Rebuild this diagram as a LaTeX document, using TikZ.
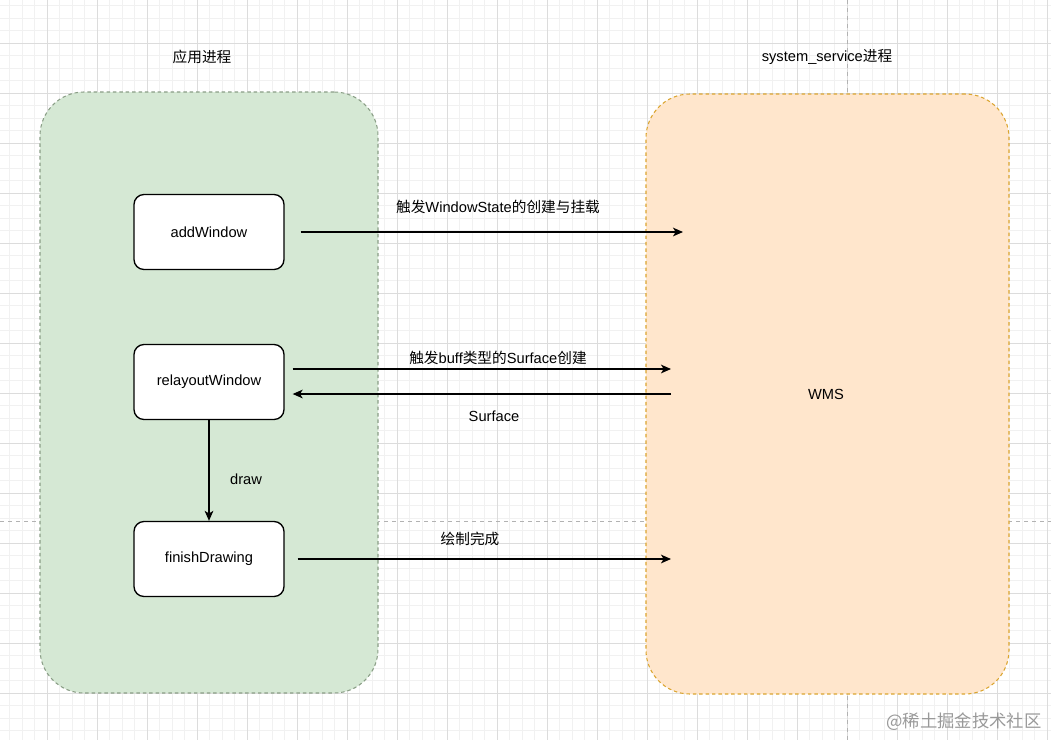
\documentclass[tikz,border=0pt]{standalone}
\usepackage{fontspec}
\setmainfont{Liberation Sans}
\newfontfamily\cjk{Noto Sans CJK SC}
\usepackage{xcolor}
\usetikzlibrary{arrows.meta,positioning}

\definecolor{appfill}{HTML}{D5E8D4}
\definecolor{appline}{HTML}{8A9E86}
\definecolor{sysfill}{HTML}{FFE6CC}
\definecolor{sysline}{HTML}{DBA530}
\definecolor{gridminor}{HTML}{F1F1F1}
\definecolor{gridmajor}{HTML}{DCDCDC}

\newcommand{\zh}[1]{{\cjk #1}}

\tikzset{
    lane/.style={rectangle,rounded corners=33pt,dash pattern=on 2.6pt off 2.2pt,line width=.8pt},
    call/.style={rectangle,rounded corners=7.5pt,draw,fill=white,line width=1pt,
        minimum width=112.5pt,minimum height=56.25pt,inner sep=0pt},
    flow/.style={-{Stealth[length=7.5pt,width=6.5pt,inset=2pt]},line width=1pt},
    lbl/.style={inner sep=0pt}
}

\begin{document}
\begin{tikzpicture}[x=0.75pt,y=-0.75pt,every node/.style={font=\fontsize{11}{13}\selectfont}]
    \useasboundingbox (0,0) rectangle (1051,740);
    \fill[white] (0,0) rectangle (1051,740);
    % background grid
    \foreach \gx in {-3,9.5,...,1051} \draw[gridminor,line width=.5pt] (\gx,0) -- (\gx,740);
    \foreach \gy in {-7,5.5,...,740} \draw[gridminor,line width=.5pt] (0,\gy) -- (1051,\gy);
    \foreach \gx in {47,97,...,1047} \draw[gridmajor,line width=.5pt] (\gx,0) -- (\gx,740);
    \foreach \gy in {43,93,...,740} \draw[gridmajor,line width=.5pt] (0,\gy) -- (1051,\gy);
    \draw[gray!60,dashed,line width=.6pt] (847,0) -- (847,740);
    \draw[gray!60,dashed,line width=.6pt] (0,521) -- (1051,521);

    \node[lane,draw=appline,fill=appfill,minimum width=253.5pt,minimum height=450.75pt] (app) at (209,392.5) {};
    \node[lane,draw=sysline,fill=sysfill,minimum width=272.25pt,minimum height=450pt] (sys) at (827.5,394) {};
    \node[lbl] (apptitle) at (202,57) {\zh{应用进程}};
    \node[lbl] (systitle) at (827,57) {system\_service\zh{进程}};
    \node[lbl] (wms) at (826,394) {WMS};

    \node[call] (add) at (209,232) {addWindow};
    \node[call] (relay) at (209,382) {relayoutWindow};
    \node[call] (finish) at (209,559) {finishDrawing};

    \coordinate (wmsAdd) at (683,232);
    \coordinate (wmsRelay) at (671,369);
    \coordinate (wmsBack) at (671,394);
    \coordinate (wmsFinish) at (671,559);

    \draw[flow] ([xshift=12pt]add.east) -- (wmsAdd);
    \draw[flow] ([xshift=6pt,yshift=9.75pt]relay.east) -- (wmsRelay);
    \draw[flow] (wmsBack) -- ([xshift=6pt,yshift=-9pt]relay.east);
    \draw[flow] (relay) -- (finish);
    \draw[flow] ([xshift=9.75pt]finish.east) -- (wmsFinish);

    \node[lbl] (addlbl) at (498,207) {\zh{触发}WindowState\zh{的创建与挂载}};
    \node[lbl] (relaylbl) at (498,358) {\zh{触发}buff\zh{类型的}Surface\zh{创建}};
    \node[lbl] (backlbl) at (494,416) {Surface};
    \node[lbl] (drawlbl) at (246,479) {draw};
    \node[lbl] (finishlbl) at (470,539) {\zh{绘制完成}};

    \node[lbl,text=black!40,font=\cjk\fontsize{13}{15}\selectfont] (mark) at (964,722) {@稀土掘金技术社区};
\end{tikzpicture}
\end{document}
